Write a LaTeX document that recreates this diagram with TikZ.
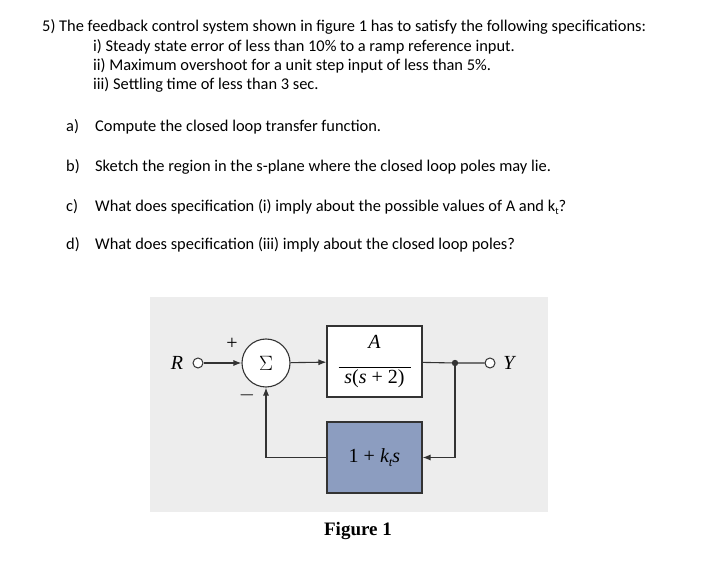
\documentclass[tikz,border=0pt]{standalone}
\usepackage{fontspec}
\setmainfont{Carlito}
\newfontfamily\tms{Liberation Serif}
\usetikzlibrary{arrows.meta}
\begin{document}
\begin{tikzpicture}[x=1pt,y=-1pt,
  txt/.style={anchor=west,inner sep=0,font=\fontsize{16.4}{18}\selectfont},
  blk/.style={draw=black!80,line width=1.1pt,minimum width=95pt,minimum height=71pt,inner sep=0,font=\tms\fontsize{20}{22}\selectfont},
  term/.style={circle,draw=black!80,line width=1pt,fill=white,inner sep=0,minimum size=10pt},
  sig/.style={line width=1.1pt,draw=black!80,-{Latex[length=8pt,width=6pt]}},
  ln/.style={line width=1.1pt,draw=black!80},
  lab/.style={font=\tms\itshape\fontsize{20}{22}\selectfont,inner sep=0}]
\useasboundingbox (0,0) rectangle (724,577);
\fill[white] (0,0) rectangle (724,577);
\node[txt] (t0) at (42,27) {5) The feedback control system shown in figure 1 has to satisfy the following specifications:};
\node[txt] (t1) at (93,47) {i) Steady state error of less than 10\% to a ramp reference input.};
\node[txt] (t2) at (93,66) {ii) Maximum overshoot for a unit step input of less than 5\%.};
\node[txt] (t3) at (93,85) {iii) Settling time of less than 3 sec.};
\node[txt] (la) at (66,127) {a)};\node[txt] (qa) at (95,127) {Compute the closed loop transfer function.};
\node[txt] (lb) at (66,167) {b)};\node[txt] (qb) at (95,167) {Sketch the region in the s-plane where the closed loop poles may lie.};
\node[txt] (lc) at (66,207) {c)};\node[txt] (qc) at (95,207) {What does specification (i) imply about the possible values of A and k\raisebox{-0.3ex}{\fontsize{10}{11}\selectfont t}?};
\node[txt] (ld) at (66,245) {d)};\node[txt] (qd) at (95,245) {What does specification (iii) imply about the closed loop poles?};
\fill[black!7] (150,297) rectangle (548,512);
\node[lab] (R) at (177,363) {R};
\node[term] (rin) at (198,363) {};
\node[circle,draw=black!80,line width=1.1pt,fill=white,minimum size=48pt,inner sep=0,font=\tms\fontsize{22}{24}\selectfont] (sum) at (266,363) {$\Sigma$};
\node[blk,fill=white] (G) at (374.5,361.5) {\begin{tabular}{@{}c@{}}\textit{A}\\[-3pt]\rule{72pt}{0.8pt}\\[-6pt]\textit{s}(\textit{s} + 2)\end{tabular}};
\node[blk,fill={rgb,255:red,140;green,157;blue,192}] (H) at (374.5,457.5) {1 + \textit{k\raisebox{-0.4ex}{\fontsize{13}{14}\selectfont t}s}};
\fill[black!80] (455,363) circle (3.2pt) coordinate (dot);
\node[term] (yout) at (490,363) {};
\node[lab] (Y) at (509,363) {Y};
\node[font=\tms\fontsize{20}{22}\selectfont,inner sep=0] (p) at (232,344) {+};
\node[font=\tms\fontsize{20}{22}\selectfont,inner sep=0] (m) at (247,395) {$-$};
\draw[sig] (rin) -- (sum);
\draw[sig] (sum) -- (G);
\draw[ln] (G) -- (dot) -- (yout);
\draw[sig] (dot) |- (H);
\draw[sig] (H) -| (sum);
\node[font=\tms\bfseries\fontsize{19}{21}\selectfont,inner sep=0] (fig) at (358,531) {Figure 1};
\end{tikzpicture}
\end{document}
